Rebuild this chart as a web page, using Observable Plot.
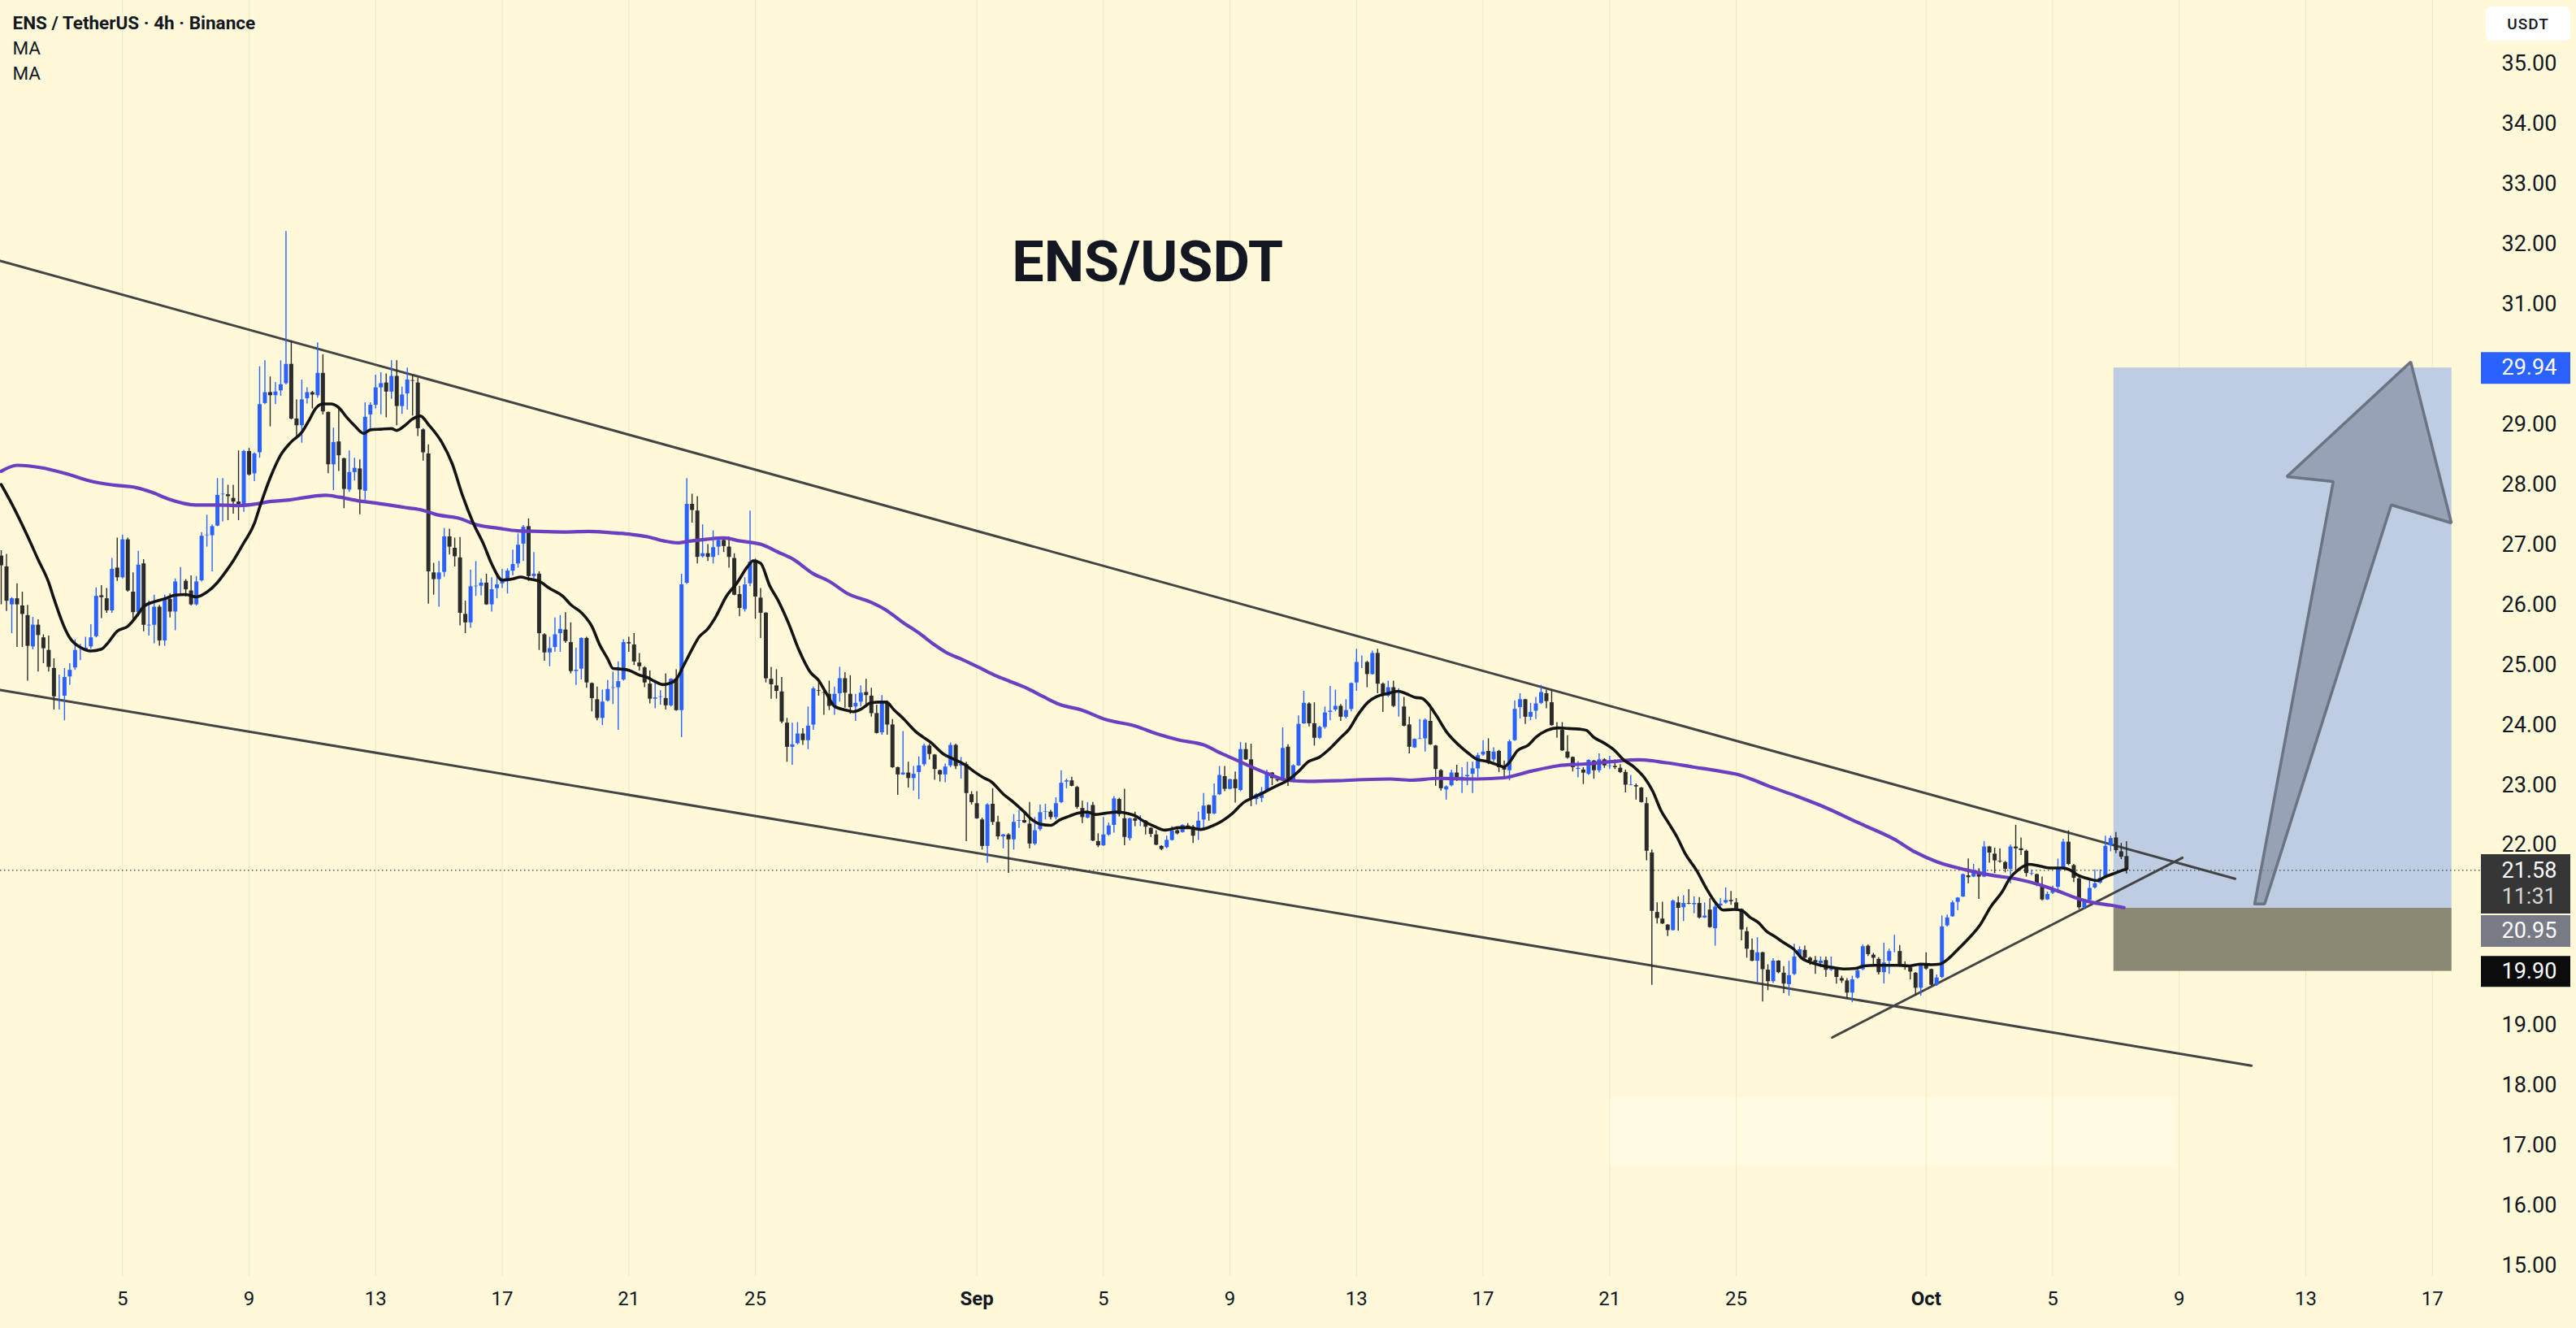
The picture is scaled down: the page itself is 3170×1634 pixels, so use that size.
<!DOCTYPE html>
<html>
<head>
<meta charset="utf-8">
<script src="https://cdn.jsdelivr.net/npm/d3@7"></script>
<script src="https://cdn.jsdelivr.net/npm/@observablehq/plot@0.6"></script>
<style>
  html, body { margin: 0; padding: 0; background: #fff9d9; }
  #wrap { position: relative; width: 3170px; height: 1634px; overflow: hidden; }
  #unit { position: absolute; left: 3059px; top: 8px; width: 104px; height: 42px; background: #ffffff;
          border-radius: 7px; font: 500 19px Roboto, "Noto Sans", sans-serif; color: #131722;
          display: flex; align-items: center; justify-content: center; letter-spacing: 1px; }
</style>
</head>
<body>
<div id="wrap"><div id="chart"></div><div id="unit">USDT</div></div>
<script>
// ---------- time base: 4h bars starting 2025-08-01 04:00 UTC ----------
const T0 = Date.UTC(2025, 7, 1, 4);
const BAR = 4 * 3600 * 1000;
const at = k => new Date(T0 + k * BAR);

// ---------- candle data (bar 0 .. 403) ----------
const opens = [
26.82,26.64,25.99,26.11,25.99,25.83,25.29,25.67,25.46,25.25,
24.95,24.46,24.47,24.79,24.94,25.24,25.23,25.29,25.46,26.16,
26.11,25.89,26.62,26.44,27.09,26.22,25.86,26.69,25.64,25.65,
25.97,25.39,26.10,25.87,26.38,26.40,26.24,25.99,26.39,27.15,
27.14,27.30,27.83,27.84,27.78,27.72,27.65,28.56,28.17,28.52,
29.34,29.54,29.47,29.55,29.67,30.01,29.10,28.97,29.42,29.54,
29.47,29.86,29.21,28.32,28.72,28.44,27.90,28.19,28.27,27.88,
29.15,29.31,29.60,29.70,29.53,29.81,29.29,29.50,29.74,29.70,
28.92,28.52,26.54,26.41,26.53,27.14,26.95,26.79,25.85,25.69,
26.30,26.30,26.37,25.99,26.26,26.34,26.41,26.55,26.67,27.00,
27.31,26.46,26.52,25.51,25.19,25.28,25.51,25.59,25.38,24.88,
24.92,25.45,24.70,24.43,24.10,24.39,24.61,24.61,24.74,25.38,
25.34,25.04,24.96,24.69,24.42,24.46,24.45,24.31,24.77,24.23,
26.35,27.68,27.57,26.79,26.86,26.78,26.95,27.08,26.97,26.78,
26.18,25.91,26.34,26.75,26.12,25.87,24.77,24.66,24.56,24.04,
23.62,23.68,23.86,23.73,23.99,24.58,24.55,24.52,24.30,24.51,
24.78,24.52,24.29,24.37,24.55,24.49,24.20,23.86,24.38,24.01,
23.30,23.16,23.21,23.10,23.20,23.33,23.66,23.51,23.25,23.16,
23.31,23.67,23.31,23.35,22.85,22.70,22.43,21.97,22.69,22.39,
22.13,22.18,22.08,22.39,22.42,22.36,22.01,22.25,22.55,22.56,
22.45,22.70,23.04,23.08,22.97,22.62,22.44,22.67,22.07,21.98,
22.16,22.32,22.77,22.45,22.10,22.45,22.39,22.41,22.29,22.18,
21.99,21.95,22.07,22.25,22.20,22.33,22.31,22.23,22.41,22.67,
22.51,22.83,23.15,22.92,23.10,22.90,23.60,23.43,22.75,22.77,
22.89,23.21,23.10,23.07,23.64,23.04,23.31,24.01,24.36,24.03,
23.77,23.95,24.20,24.24,24.32,24.12,24.25,24.69,25.05,25.05,
24.83,25.20,24.69,24.47,24.63,24.30,24.31,24.01,23.61,23.76,
23.76,24.07,23.66,23.25,22.91,22.98,23.21,23.11,23.13,23.17,
23.26,23.49,23.57,23.41,23.57,23.30,23.23,23.73,24.28,24.43,
24.12,24.22,24.35,24.53,24.38,23.97,23.92,23.56,23.47,23.27,
23.26,23.17,23.41,23.23,23.43,23.31,23.32,23.29,23.22,22.99,
23.00,22.96,22.70,21.88,20.89,20.78,20.68,20.57,21.05,20.95,
21.04,21.00,21.04,20.78,20.93,20.60,20.98,21.03,21.09,21.05,
20.94,20.57,20.26,20.06,20.22,19.93,19.72,20.08,19.88,19.67,
19.84,20.14,20.26,20.13,20.09,20.02,20.09,19.91,19.96,19.79,
19.75,19.53,19.78,19.92,20.33,20.18,20.11,19.87,20.06,20.24,
20.24,20.00,19.97,19.88,19.61,20.00,19.94,19.66,19.79,20.65,
20.80,21.04,21.13,21.50,21.46,21.54,21.46,21.98,21.86,21.74,
21.72,21.59,21.98,21.95,21.91,21.52,21.52,21.34,21.08,21.19,
21.29,21.60,22.06,21.67,21.45,20.95,21.07,21.28,21.36,21.45,
21.98,22.13,21.90,21.82];
const highs = [
26.90,26.84,26.12,26.35,26.21,25.99,25.79,25.75,25.50,25.48,
25.10,24.83,24.94,25.02,25.42,25.34,25.46,25.67,26.28,26.32,
26.27,26.77,27.11,27.16,27.11,26.53,26.89,26.75,26.06,26.16,
25.99,26.16,26.18,26.43,26.62,26.42,26.48,26.47,27.20,27.49,
27.33,28.10,28.10,27.99,27.99,28.56,28.57,28.60,28.53,29.96,
30.06,29.79,29.70,30.06,32.21,30.39,29.41,29.74,29.61,29.55,
30.36,30.16,29.21,28.94,29.25,28.44,28.56,28.44,28.41,29.36,
29.36,29.82,29.86,29.84,30.06,30.06,29.62,29.94,29.82,29.77,
28.93,28.66,26.69,26.72,27.27,27.26,27.11,27.12,26.06,26.58,
26.72,26.43,26.51,26.45,26.50,26.59,26.60,26.91,27.18,27.32,
27.43,26.87,26.55,25.52,25.46,25.78,25.82,25.87,25.70,25.28,
25.45,25.46,24.70,24.63,24.58,24.74,24.88,25.05,25.42,25.46,
25.52,25.19,24.97,24.90,24.74,24.57,24.85,24.77,24.92,26.51,
28.10,27.84,27.80,27.33,27.00,27.23,27.11,27.13,27.13,26.85,
26.31,26.45,27.56,26.76,26.27,25.87,24.96,24.92,24.79,24.11,
24.03,24.04,23.94,24.30,24.63,24.76,24.61,24.73,24.63,24.96,
24.87,24.82,24.51,24.65,24.76,24.61,24.33,24.49,24.40,24.09,
23.30,23.89,23.38,23.31,23.47,23.68,23.68,23.51,23.25,23.35,
23.70,23.68,23.46,23.38,22.89,22.89,22.45,22.69,22.94,22.48,
22.18,22.19,22.51,22.58,22.55,22.71,22.46,22.67,22.68,22.58,
22.79,23.24,23.10,23.13,22.98,22.73,22.71,22.71,22.19,22.46,
22.37,22.81,22.78,22.93,22.45,22.55,22.49,22.41,22.29,22.24,
21.99,22.15,22.31,22.26,22.34,22.36,22.33,22.55,22.86,22.67,
23.02,23.31,23.31,23.10,23.22,23.71,23.70,23.68,22.86,22.96,
23.25,23.21,23.11,23.95,23.67,23.34,24.15,24.56,24.37,24.37,
23.98,24.30,24.64,24.58,24.34,24.42,24.70,25.26,25.15,25.06,
25.23,25.26,24.70,24.73,24.73,24.60,24.46,24.13,23.77,24.09,
24.10,24.33,23.66,23.26,22.99,23.25,23.33,23.29,23.38,23.38,
23.53,23.74,23.77,23.62,23.58,23.40,23.75,24.40,24.52,24.43,
24.36,24.46,24.66,24.58,24.58,24.04,24.04,23.82,23.47,23.39,
23.29,23.42,23.41,23.52,23.44,23.48,23.42,23.34,23.25,23.16,
23.02,22.96,22.79,21.92,21.04,21.05,20.68,21.09,21.14,21.16,
21.26,21.14,21.13,21.04,21.11,21.02,21.11,21.29,21.23,21.11,
20.94,20.63,20.44,20.46,20.22,20.01,20.11,20.08,19.98,20.07,
20.35,20.31,20.32,20.14,20.15,20.14,20.14,20.14,19.96,19.82,
19.78,19.82,19.94,20.34,20.34,20.20,20.13,20.37,20.27,20.50,
20.33,20.06,20.00,19.88,20.02,20.21,19.94,19.84,20.82,20.84,
21.07,21.13,21.52,21.77,21.68,21.61,22.06,21.98,21.95,21.94,
21.73,22.00,22.33,22.12,21.92,21.59,21.52,21.47,21.22,21.32,
21.77,22.10,22.24,21.68,21.47,21.09,21.41,21.59,21.59,22.15,
22.15,22.21,22.03,22.06];
const lows = [
26.00,25.89,25.52,25.29,25.29,24.73,25.25,24.88,25.02,24.88,
24.25,24.25,24.07,24.66,24.91,25.07,25.22,25.26,25.45,25.77,
25.86,25.86,26.39,26.43,26.21,25.75,25.80,25.55,25.48,25.35,
25.31,25.31,25.78,25.57,26.16,26.13,25.98,25.98,26.38,26.96,
26.55,27.30,27.38,27.40,27.51,27.40,27.54,28.14,28.05,28.44,
29.33,28.96,29.33,29.47,29.66,29.08,28.75,28.69,29.34,29.26,
29.44,29.16,28.18,27.90,28.22,27.60,27.87,28.06,27.50,27.73,
28.90,29.26,29.16,29.11,29.42,28.98,29.17,29.24,29.14,28.80,
28.39,26.01,26.16,25.96,26.46,26.83,26.63,25.65,25.52,25.61,
26.14,26.15,25.99,25.88,26.10,26.27,26.18,26.48,26.61,26.72,
26.39,26.43,25.24,25.06,24.97,25.21,25.21,25.36,24.85,24.66,
24.75,24.61,24.22,24.07,23.99,24.38,24.34,23.91,24.73,25.21,
24.99,24.90,24.62,24.35,24.27,24.33,24.25,24.30,24.23,23.79,
26.34,27.36,26.68,26.78,26.72,26.68,26.82,26.87,26.61,26.15,
25.80,25.88,26.30,25.76,25.44,24.70,24.43,24.43,24.02,23.38,
23.33,23.67,23.66,23.59,23.91,24.48,24.16,24.24,24.16,24.38,
24.28,24.18,24.06,24.30,24.29,24.13,23.85,23.83,23.83,23.28,
22.83,23.16,22.95,22.90,22.76,23.31,23.42,23.08,23.05,23.04,
23.29,23.26,23.10,22.06,22.67,22.43,21.92,21.70,22.33,22.09,
21.94,21.53,21.92,22.28,22.36,21.94,21.99,22.23,22.42,22.42,
22.42,22.69,22.94,22.97,22.60,22.36,22.44,22.06,21.96,21.98,
22.15,22.20,22.47,21.99,22.07,22.31,22.31,22.17,22.13,21.99,
21.91,21.94,22.07,22.17,22.20,22.26,22.03,22.08,22.26,22.40,
22.51,22.83,22.89,22.92,22.70,22.89,23.41,22.64,22.67,22.71,
22.88,22.99,23.05,23.07,22.98,23.04,23.31,24.01,23.97,23.65,
23.76,23.93,24.07,24.22,24.06,24.10,24.22,24.56,24.94,24.62,
24.83,24.52,24.21,24.46,24.29,24.13,23.97,23.52,23.61,23.76,
23.55,23.66,22.98,22.90,22.75,22.97,23.06,22.86,22.99,22.86,
23.12,23.48,23.34,23.38,23.21,23.13,23.07,23.73,24.10,24.01,
24.07,24.09,24.34,24.27,23.98,23.78,23.56,23.43,23.22,23.12,
23.01,23.16,23.10,23.20,23.28,23.26,23.26,23.19,22.87,22.99,
22.75,22.70,21.74,19.67,20.69,20.68,20.48,20.57,20.57,20.73,
21.01,20.86,20.77,20.78,20.62,20.32,20.96,21.02,21.00,20.92,
20.41,20.12,20.06,19.70,19.39,19.58,19.70,19.86,19.53,19.49,
19.83,20.12,20.10,20.00,19.85,19.96,19.80,19.90,19.69,19.70,
19.44,19.38,19.77,19.91,20.15,20.01,19.84,19.69,19.85,20.21,
19.97,19.92,19.76,19.49,19.49,19.92,19.65,19.65,19.78,20.64,
20.80,20.91,21.13,21.36,21.46,21.10,21.46,21.70,21.53,21.70,
21.54,21.36,21.55,21.83,21.47,21.49,21.31,21.07,21.08,21.18,
21.20,21.59,21.66,21.38,20.93,20.93,21.04,21.27,21.35,21.45,
21.89,21.86,21.76,21.52];
const closes = [
26.64,26.05,26.11,25.99,25.83,25.30,25.67,25.48,25.26,24.95,
24.46,24.48,24.80,24.92,25.25,25.26,25.29,25.46,26.15,26.11,
25.89,26.60,26.44,27.09,26.22,25.86,26.67,25.65,25.67,25.97,
25.39,26.10,25.87,26.39,26.40,26.24,25.99,26.39,27.15,27.16,
27.31,27.83,27.84,27.79,27.70,27.65,28.56,28.15,28.52,29.34,
29.54,29.47,29.55,29.67,30.01,29.08,28.97,29.42,29.54,29.48,
29.86,29.20,28.32,28.71,28.47,27.91,28.21,28.28,27.90,29.13,
29.33,29.62,29.69,29.53,29.81,29.29,29.50,29.75,29.71,28.92,
28.52,26.54,26.41,26.54,27.14,26.95,26.79,25.85,25.69,26.31,
26.31,26.37,25.99,26.26,26.34,26.41,26.57,26.68,27.00,27.30,
26.46,26.52,25.51,25.19,25.28,25.51,25.60,25.38,24.88,24.92,
25.45,24.69,24.43,24.10,24.39,24.60,24.62,24.73,25.38,25.34,
25.04,24.96,24.69,24.42,24.46,24.47,24.31,24.77,24.23,26.34,
27.68,27.56,26.78,26.86,26.78,26.96,27.08,26.96,26.78,26.15,
25.93,26.34,26.72,26.12,25.85,24.76,24.66,24.55,24.04,23.62,
23.68,23.86,23.73,23.99,24.61,24.55,24.52,24.30,24.52,24.78,
24.52,24.28,24.37,24.54,24.48,24.18,23.85,24.38,23.99,23.28,
23.16,23.21,23.10,23.19,23.33,23.66,23.50,23.25,23.16,23.31,
23.67,23.30,23.35,22.85,22.70,22.43,21.97,22.68,22.37,22.13,
22.18,22.08,22.39,22.42,22.36,22.01,22.25,22.55,22.56,22.45,
22.70,23.04,23.08,22.97,22.62,22.45,22.54,22.06,21.98,22.18,
22.33,22.78,22.50,22.12,22.45,22.39,22.41,22.29,22.17,21.99,
21.92,22.09,22.25,22.18,22.34,22.27,22.14,22.41,22.66,22.51,
22.83,23.17,22.92,23.10,22.93,23.60,23.41,22.77,22.85,22.89,
23.22,23.10,23.06,23.62,23.04,23.33,24.02,24.37,24.01,23.77,
23.97,24.21,24.24,24.32,24.12,24.25,24.70,25.05,25.07,24.83,
25.20,24.67,24.47,24.63,24.30,24.32,23.97,23.62,23.77,23.77,
24.09,23.66,23.25,22.93,22.98,23.21,23.08,23.14,23.17,23.28,
23.50,23.56,23.39,23.56,23.28,23.24,23.73,24.27,24.43,24.12,
24.22,24.36,24.55,24.38,23.98,23.95,23.56,23.44,23.28,23.27,
23.19,23.42,23.23,23.43,23.31,23.32,23.28,23.20,22.99,23.00,
22.96,22.70,21.89,20.89,20.77,20.68,20.57,21.08,20.94,21.04,
21.01,21.04,20.78,20.83,20.62,20.98,21.03,21.09,21.05,20.93,
20.58,20.26,20.06,20.22,19.92,19.72,20.08,19.87,19.68,19.84,
20.15,20.27,20.11,20.06,20.03,20.08,19.91,19.95,19.79,19.73,
19.53,19.77,19.92,20.32,20.17,20.11,19.87,20.05,20.24,20.26,
19.99,19.96,19.88,19.61,20.00,19.93,19.66,19.80,20.65,20.80,
21.05,21.13,21.52,21.45,21.55,21.46,21.98,21.86,21.73,21.71,
21.59,21.98,21.93,21.90,21.52,21.53,21.32,21.08,21.19,21.28,
21.61,22.06,21.67,21.44,20.95,21.07,21.29,21.37,21.46,21.99,
22.12,21.90,21.79,21.58];

// ---------- moving averages: [bar, value] ----------
const maFast = [
[0,28.00],[2,27.68],[5,27.14],[7,26.75],[9,26.37],[10,26.10],[12,25.62],[13,25.45],[15,25.29],[17,25.23],
[19,25.26],[20,25.34],[22,25.56],[24,25.64],[26,25.85],[27,25.97],[29,26.05],[31,26.10],[33,26.16],[35,26.17],
[37,26.13],[39,26.21],[41,26.37],[42.5,26.54],[44,26.73],[46,27.03],[48,27.35],[49,27.62],[51,28.11],[53,28.49],
[55,28.71],[57,28.87],[58.5,29.09],[59.5,29.25],[61,29.34],[62.5,29.34],[64,29.28],[65.5,29.12],[67,28.98],[68.7,28.85],
[70,28.91],[72,28.92],[74,28.93],[75,28.90],[76.5,28.98],[78,29.09],[79.5,29.14],[81,29.00],[83.5,28.71],[85.5,28.35],
[87.5,27.81],[89.5,27.36],[91.5,27.00],[93,26.68],[95,26.41],[97,26.43],[98.5,26.46],[100,26.43],[102,26.39],[104,26.27],
[106.5,26.14],[108,26.00],[110,25.87],[112,25.64],[113.5,25.33],[115,25.10],[116,24.94],[117.5,24.93],[119,24.91],[121,24.83],
[122.5,24.79],[124,24.72],[125.5,24.67],[127,24.70],[128,24.76],[129.3,24.97],[131,25.26],[132.3,25.46],[134,25.60],[135.5,25.80],
[137.5,26.14],[139.5,26.36],[141.5,26.63],[142.6,26.73],[144,26.69],[145.7,26.32],[147.2,26.09],[149.3,25.69],[151.3,25.24],[153.4,24.88],
[155,24.74],[156.5,24.52],[158,24.31],[160,24.25],[161.6,24.22],[163.2,24.27],[164.7,24.36],[166.3,24.38],[167.8,24.38],[169.3,24.25],
[171,24.11],[173.4,23.89],[176.4,23.70],[178.6,23.52],[180.6,23.43],[182.7,23.34],[184.7,23.21],[186.3,23.12],[187.8,23.05],[190,22.85],
[192,22.71],[194,22.55],[195.5,22.42],[197,22.35],[199,22.33],[200.7,22.42],[202.5,22.48],[204,22.53],[206,22.55],[207.4,22.51],
[209.4,22.53],[211.5,22.55],[213.5,22.53],[215,22.49],[216.6,22.40],[218.7,22.31],[220.7,22.25],[223.3,22.29],[225.3,22.29],[227.4,22.26],
[229.4,22.31],[231.5,22.40],[233.5,22.53],[235.6,22.71],[237.6,22.80],[239.7,22.89],[241.7,22.98],[243.8,23.07],[245.8,23.21],[247.9,23.39],
[249.9,23.46],[252,23.61],[254,23.79],[255.6,23.93],[257.2,24.16],[259.2,24.38],[260.8,24.47],[262.8,24.52],[264.9,24.56],[266.4,24.52],
[268,24.46],[269.5,24.44],[270.5,24.36],[272.1,24.16],[274.1,23.88],[276.2,23.68],[278.2,23.53],[279.8,23.43],[281.8,23.39],[283.9,23.33],
[284.9,23.30],[285.9,23.37],[287.5,23.57],[289.5,23.66],[291.1,23.80],[293.1,23.91],[295.2,23.95],[297.2,23.94],[299.3,23.93],[300.6,23.91],
[301.9,23.80],[303.9,23.70],[306,23.57],[307.5,23.43],[309.6,23.30],[311.6,23.12],[313.2,22.89],[314.7,22.58],[316.3,22.35],[317.8,22.13],
[319.3,21.86],[321.4,21.59],[323.4,21.27],[325,21.05],[326.5,20.92],[328.6,20.93],[330.1,20.91],[331.6,20.80],[333.2,20.71],[334.7,20.57],
[336.3,20.48],[338.3,20.36],[339.9,20.27],[341.4,20.12],[343.4,20.04],[345.5,19.99],[347.6,19.96],[349.6,19.94],[351.7,19.95],[353.2,19.99],
[355.3,20.00],[357.8,20.00],[359.9,20.00],[361.9,19.99],[364,20.02],[366,20.01],[367.6,20.02],[369.1,20.10],[371.2,20.28],[373.2,20.46],
[375.3,20.68],[377.3,20.98],[379.4,21.22],[380.9,21.45],[382.5,21.59],[384.5,21.68],[386.6,21.65],[388.6,21.62],[390.9,21.62],[392.2,21.59],
[393.8,21.50],[395.8,21.44],[397.4,21.41],[398.9,21.47],[401,21.54],[402.5,21.59],[403,21.60]];
const maSlow = [
[0,28.22],[3,28.32],[7.6,28.28],[12.7,28.17],[16.8,28.06],[21.4,27.99],[25.5,27.95],[28.6,27.87],[31.7,27.76],[36.8,27.66],
[41,27.66],[45,27.65],[48.6,27.68],[51.2,27.72],[54.3,27.74],[57.4,27.78],[61.5,27.82],[64.1,27.79],[67.6,27.73],[71.2,27.69],
[76.4,27.62],[80,27.57],[82.5,27.50],[86.7,27.44],[90.2,27.33],[94.4,27.27],[97.9,27.23],[102.1,27.22],[107.2,27.21],[111.3,27.22],
[115.4,27.20],[119.5,27.17],[122.6,27.13],[125.7,27.06],[128.2,27.03],[130.8,27.06],[133.9,27.09],[137,27.11],[140.1,27.06],[144.2,27.00],
[147.2,26.88],[150.3,26.75],[153.9,26.52],[157,26.39],[160.6,26.18],[164.7,26.05],[167.8,25.91],[170.9,25.71],[174,25.53],[177,25.33],
[179.1,25.21],[182.2,25.09],[185.3,24.96],[188.3,24.83],[191.4,24.72],[194.5,24.61],[197.6,24.47],[200.7,24.34],[204.8,24.25],[209.4,24.09],
[215.1,23.98],[219.2,23.85],[223.3,23.75],[227.9,23.67],[231.5,23.52],[234.6,23.40],[237.6,23.28],[240.7,23.17],[243.8,23.08],[247.9,23.06],
[253.1,23.07],[258.2,23.09],[263.3,23.10],[267.4,23.08],[272.5,23.11],[279.8,23.10],[284.9,23.12],[290.1,23.23],[295.2,23.32],[300.3,23.35],
[305.4,23.39],[310.6,23.42],[315.7,23.37],[320.8,23.30],[325.9,23.23],[329,23.18],[332.1,23.09],[335.2,22.98],[340.3,22.82],[344.7,22.67],
[352.7,22.35],[358.9,22.10],[363,21.88],[367.1,21.72],[372.4,21.59],[377.4,21.50],[382.5,21.43],[386.6,21.34],[390.2,21.23],[393.8,21.11],
[396.9,21.04],[400,21.00],[402.5,20.96]];

// ---------- drawings: [bar, price] ----------
const upperLine   = [[-0.2, 31.72], [423.6, 21.44]];
const lowerLine   = [[-0.2, 24.58], [426.7, 18.33]];
const supportLine = [[347.2, 18.80], [413.6, 21.79]];
const arrowShape  = [[427.3,21.02],[442.2,28.05],[433.4,28.13],[456.9,30.04],[464.6,27.36],[453.2,27.66],[429.2,21.02],[427.3,21.02]];
const targetZone  = {from: 400.6, to: 464.7, entry: 20.95, target: 29.94};
const stopZone    = {from: 400.6, to: 464.7, entry: 20.95, stop: 19.90};
const glowBand    = {from: 305, to: 412.6, low: 16.65, high: 17.80};

// ---------- axis / labels (ticks hidden behind price tags are left out) ----------
const yTicks = [15,16,17,18,19,22,23,24,25,26,27,28,29,31,32,33,34,35];
const dayTicks = ["2025-08-05","2025-08-09","2025-08-13","2025-08-17","2025-08-21","2025-08-25",
                  "2025-09-05","2025-09-09","2025-09-13","2025-09-17","2025-09-21","2025-09-25",
                  "2025-10-05","2025-10-09","2025-10-13","2025-10-17"];
const monthTicks = ["2025-09-01","2025-10-01"];
const lastPrice = 21.58, countdown = "11:31";
const tagTarget = 29.94, tagEntry = 20.95, tagStop = 19.90;
const titleText = "ENS/USDT";
const legendLines = ["ENS / TetherUS · 4h · Binance", "MA", "MA"];

// ---------- build ----------
const candles = opens.map((o, i) => ({date: at(i), o, h: highs[i], l: lows[i], c: closes[i]}));
const ups = candles.filter(d => d.c >= d.o), downs = candles.filter(d => d.c < d.o);
const BLUE = "#2962ff", DARK = "#2b2b2b";
const FONT = "Roboto, 'Noto Sans', sans-serif";
const toDate = s => new Date(s + "T00:00:00Z");
const P = d => ({x: at(d[0]), y: d[1]});
const TAGX = 58;

const tag = (v, bg, h, shift) => [
  Plot.ruleY([v], {y: d => d, stroke: bg, strokeWidth: h, insetLeft: 3053, insetRight: -143, dy: shift}),
  Plot.text([v], {y: d => d, text: d => d.toFixed(2), frameAnchor: "right", dx: TAGX, dy: shift,
                  textAnchor: "start", fill: "#ffffff", fontSize: 27})
];

const chart = Plot.plot({
  width: 3170, height: 1634,
  marginLeft: 0, marginRight: 150, marginTop: 0, marginBottom: 64,
  style: {background: "#fff9d9", fontFamily: FONT, color: "#131722", overflow: "visible"},
  x: {type: "utc", domain: [at(-0.154), at(465.2)]},
  y: {domain: [14.824, 36.055]},
  marks: [
    Plot.ruleX([...dayTicks, ...monthTicks].map(toDate), {x: d => d, stroke: "#ece6c4", strokeWidth: 1}),
    Plot.rect([glowBand], {x1: d => at(d.from), x2: d => at(d.to), y1: "low", y2: "high", fill: "#ffffff", fillOpacity: 0.18}),
    Plot.rect([targetZone], {x1: d => at(d.from), x2: d => at(d.to), y1: "entry", y2: "target", fill: "#bfcde3"}),
    Plot.rect([stopZone], {x1: d => at(d.from), x2: d => at(d.to), y1: "stop", y2: "entry", fill: "#8b8873"}),
    Plot.line(upperLine.map(P), {x: "x", y: "y", stroke: "#444444", strokeWidth: 3}),
    Plot.line(lowerLine.map(P), {x: "x", y: "y", stroke: "#444444", strokeWidth: 3}),
    Plot.line(supportLine.map(P), {x: "x", y: "y", stroke: "#444444", strokeWidth: 3}),
    Plot.ruleY([lastPrice], {y: d => d, stroke: "#3a3a3a", strokeWidth: 1.2, strokeDasharray: "1.5,3.5", insetRight: -35}),
    Plot.ruleX(ups, {x: "date", y1: "l", y2: "h", stroke: BLUE, strokeWidth: 1.4}),
    Plot.ruleX(downs, {x: "date", y1: "l", y2: "h", stroke: DARK, strokeWidth: 1.4}),
    Plot.ruleX(ups, {x: "date", y1: "o", y2: "c", stroke: BLUE, strokeWidth: 5, insetTop: -0.7, insetBottom: -0.7}),
    Plot.ruleX(downs, {x: "date", y1: "c", y2: "o", stroke: DARK, strokeWidth: 5, insetTop: -0.7, insetBottom: -0.7}),
    Plot.line(maSlow.map(P), {x: "x", y: "y", stroke: "#6a3fc0", strokeWidth: 4.2, curve: "monotone-x"}),
    Plot.line(maFast.map(P), {x: "x", y: "y", stroke: "#141414", strokeWidth: 3.6, curve: "monotone-x"}),
    Plot.line(arrowShape.map(P), {x: "x", y: "y", fill: "#8690a3", fillOpacity: 0.7, stroke: "#6c7382",
                                   strokeWidth: 3.5, strokeLinejoin: "miter", curve: "linear"}),
    Plot.text([titleText], {x: () => new Date(Date.UTC(2025, 8, 6, 9, 30)), y: () => 31.68, text: d => d,
                            fontSize: 70, fontWeight: "bold", fill: "#131722"}),
    Plot.text([legendLines[0]], {text: d => d, frameAnchor: "top-left", lineAnchor: "middle", dx: 15, dy: 28, fontSize: 22.5, fontWeight: "bold", textAnchor: "start"}),
    Plot.text([legendLines[1]], {text: d => d, frameAnchor: "top-left", lineAnchor: "middle", dx: 15, dy: 59, fontSize: 22.5, textAnchor: "start"}),
    Plot.text([legendLines[2]], {text: d => d, frameAnchor: "top-left", lineAnchor: "middle", dx: 15, dy: 90, fontSize: 22.5, textAnchor: "start"}),
    Plot.axisX(dayTicks.map(toDate), {anchor: "bottom", tickSize: 0, tickPadding: 18, fontSize: 24,
                                       tickFormat: d => String(d.getUTCDate())}),
    Plot.axisX(monthTicks.map(toDate), {anchor: "bottom", tickSize: 0, tickPadding: 18, fontSize: 24, fontWeight: "bold",
                                         tickFormat: d3.utcFormat("%b")}),
    Plot.axisY(yTicks, {anchor: "right", tickSize: 0, tickPadding: TAGX, fontSize: 27, tickFormat: d3.format(".2f")}),
    ...tag(tagTarget, "#2962ff", 39, 0),
    Plot.ruleY([lastPrice], {y: d => d, stroke: "#363636", strokeWidth: 73, insetLeft: 3053, insetRight: -143, dy: 16.5}),
    Plot.text([lastPrice], {y: d => d, text: d => d.toFixed(2), frameAnchor: "right", dx: TAGX, textAnchor: "start", fill: "#ffffff", fontSize: 27}),
    Plot.text([countdown], {y: () => lastPrice, text: d => d, frameAnchor: "right", dx: TAGX, dy: 32, textAnchor: "start", fill: "#d6d6d6", fontSize: 27}),
    ...tag(tagEntry, "#787b86", 39, 28),
    ...tag(tagStop, "#0c0c0c", 38, 0)
  ]
});
document.getElementById("chart").appendChild(chart);
</script>
</body>
</html>
